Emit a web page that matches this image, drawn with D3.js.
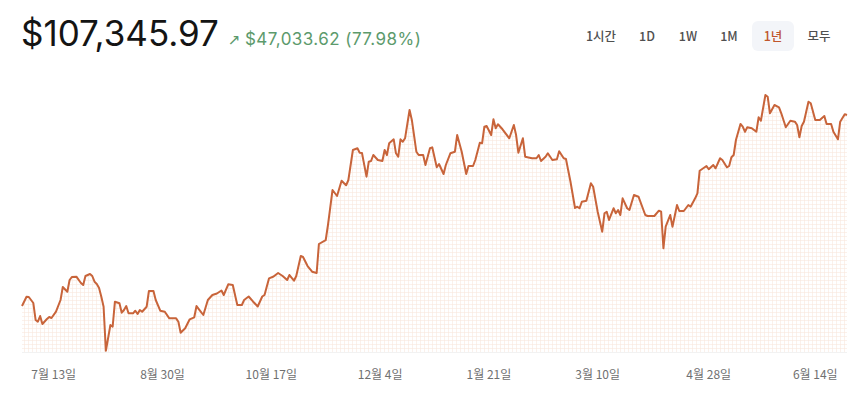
<!DOCTYPE html>
<html>
<head>
<meta charset="utf-8">
<script src="https://d3js.org/d3.v7.min.js"></script>
<style>
    body { margin: 0; background: #fff; }
    svg { display: block; }
    .tick-label { font-family: 'Noto Sans CJK KR', 'Noto Sans', sans-serif; font-size: 12px; fill: #707070; }
    .btn { font-family: 'Noto Sans CJK KR', 'Inter', sans-serif; font-size: 12.5px; font-weight: 500; fill: #505050; }
</style>
</head>
<body>
<svg width="860" height="396"></svg>
<script>
    // day offsets from 2024-06-29 and the price
    const startDate = new Date(2024, 5, 29);
    const days = [0, 2, 3, 5, 6, 7, 8, 9, 11, 12, 13, 15, 17, 18, 20, 21, 22, 24, 26, 27, 28, 30, 31, 32, 33, 34, 35, 36, 37, 38, 39, 40, 41, 43, 44, 45, 46, 47, 49, 50, 51, 52, 53, 55, 56, 58, 59, 61, 63, 65, 68, 69, 70, 72, 74, 76, 77, 78, 80, 82, 84, 86, 88, 89, 91, 93, 95, 97, 98, 100, 102, 104, 106, 107, 109, 111, 113, 115, 117, 118, 120, 121, 123, 124, 126, 128, 130, 131, 134, 135, 137, 139, 141, 143, 144, 146, 148, 149, 150, 152, 153, 154, 155, 157, 159, 160, 161, 162, 164, 165, 166, 167, 168, 169, 171, 172, 174, 175, 177, 178, 180, 181, 183, 184, 186, 187, 189, 191, 192, 194, 196, 197, 199, 200, 202, 203, 204, 205, 207, 208, 209, 210, 212, 215, 217, 218, 219, 221, 222, 225, 227, 228, 229, 231, 232, 234, 236, 237, 239, 240, 242, 244, 245, 246, 247, 249, 251, 252, 254, 256, 257, 258, 259, 261, 262, 263, 264, 265, 267, 268, 270, 272, 275, 276, 279, 281, 282, 283, 284, 286, 287, 289, 290, 292, 294, 295, 297, 298, 299, 302, 303, 305, 306, 308, 309, 311, 312, 313, 314, 315, 317, 318, 319, 320, 322, 324, 325, 326, 328, 329, 330, 332, 334, 335, 337, 339, 341, 342, 343, 344, 345, 347, 348, 350, 352, 354, 355, 357, 358, 360, 361, 363, 364];
    const prices = [60312, 62610, 62540, 61060, 56880, 56460, 57860, 55890, 57120, 57610, 57370, 58920, 61800, 65000, 63840, 66720, 67460, 67540, 65980, 65490, 67710, 68200, 67710, 66300, 65740, 64750, 62610, 60150, 49320, 52440, 55640, 55230, 61380, 60990, 58670, 59340, 60310, 58530, 58530, 59170, 58350, 59340, 58920, 60150, 64020, 64020, 61800, 59170, 58920, 57290, 57290, 56460, 53750, 54830, 57050, 57540, 60310, 59580, 58110, 61800, 63030, 63400, 64140, 63030, 65660, 65490, 60570, 60570, 61800, 62660, 61380, 60200, 62660, 63030, 67140, 67590, 68450, 67710, 66720, 67950, 66550, 67710, 72630, 72390, 70170, 68770, 68450, 75590, 76570, 80260, 88880, 87400, 91170, 90040, 91340, 98730, 99150, 98060, 97990, 92160, 95850, 96020, 97500, 96270, 96020, 98730, 97500, 100380, 101360, 97920, 97080, 101360, 100770, 101610, 108580, 106120, 98310, 97500, 97500, 95040, 99150, 99390, 94470, 95280, 92820, 95040, 97920, 98310, 102420, 98310, 92820, 94790, 94790, 96270, 100530, 100380, 104470, 104640, 102420, 106290, 104070, 105060, 103830, 101610, 104880, 102420, 98060, 101610, 97080, 96690, 96690, 97500, 96020, 97080, 97920, 96270, 96440, 98430, 96690, 96510, 90920, 84450, 84770, 84380, 86000, 86250, 90530, 89690, 83540, 78610, 83150, 83540, 81500, 84380, 83150, 83960, 82730, 86840, 84380, 83960, 87650, 87230, 82730, 82480, 82480, 83790, 83540, 74530, 79850, 82730, 79850, 85190, 83710, 83710, 85190, 84770, 86840, 88070, 93630, 94790, 93980, 95040, 94220, 96690, 96270, 94470, 94790, 96930, 97500, 101190, 105130, 104470, 103230, 104320, 104070, 103230, 106780, 105940, 112270, 111850, 107770, 109810, 109240, 107770, 104320, 105940, 105700, 104880, 101860, 104640, 105700, 110620, 110230, 106120, 106120, 107100, 105130, 105130, 103230, 101360, 105700, 107520, 107345.97];

    const tickDates = ["2024-07-13", "2024-08-30", "2024-10-17", "2024-12-04", "2025-01-21", "2025-03-10", "2025-04-28", "2025-06-14"];
    const buttons = ["1시간", "1D", "1W", "1M", "1년", "모두"];
    const activeButton = "1년";
    const lastPrice = "$107,345.97";
    const change = "$47,033.62 (77.98%)";

    const parse = d3.timeParse("%Y-%m-%d");
    const data = days.map((d, i) => ({ date: d3.timeDay.offset(startDate, d), price: prices[i] }));

    const svg = d3.select("svg");
    const lineColor = "#c8643a";
    const green = "#5c9a6c";

    const xScale = d3.scaleTime()
        .domain([startDate, d3.timeDay.offset(startDate, 364)])
        .range([22, 847]);
    const yScale = d3.scaleLinear()
        .domain(d3.extent(prices))
        .range([350.7, 95]);
    const bottom = 352;

    // grid pattern fill under the line
    const defs = svg.append("defs");
    const pat = defs.append("pattern")
        .attr("id", "grid")
        .attr("width", 4).attr("height", 4)
        .attr("patternUnits", "userSpaceOnUse");
    pat.append("path")
        .attr("d", "M4 0 L0 0 0 4")
        .attr("fill", "none")
        .attr("stroke", "#f8e4d8")
        .attr("stroke-width", 1);

    const area = d3.area()
        .x(d => xScale(d.date))
        .y0(bottom)
        .y1(d => yScale(d.price));

    svg.append("path")
        .datum(data)
        .attr("fill", "url(#grid)")
        .attr("d", area);

    svg.append("line")
        .attr("x1", 22).attr("x2", 847)
        .attr("y1", bottom + 0.5).attr("y2", bottom + 0.5)
        .attr("stroke", "#f2f2f2");

    const line = d3.line()
        .x(d => xScale(d.date))
        .y(d => yScale(d.price));

    svg.append("path")
        .datum(data)
        .attr("fill", "none")
        .attr("stroke", lineColor)
        .attr("stroke-width", 2)
        .attr("stroke-linejoin", "round")
        .attr("d", line);

    // x axis labels
    const fmt = d => `${d.getMonth() + 1}월 ${d.getDate()}일`;
    svg.append("g")
        .selectAll("text")
        .data(tickDates.map(parse))
        .join("text")
        .attr("class", "tick-label")
        .attr("x", d => xScale(d))
        .attr("y", 379)
        .attr("text-anchor", "middle")
        .text(fmt);

    // header
    svg.append("text")
        .attr("x", 21)
        .attr("y", 46)
        .attr("font-family", "Inter, sans-serif")
        .attr("font-size", 35)
        .attr("fill", "#141414")
        .text(lastPrice);

    svg.append("text")
        .attr("x", 228)
        .attr("y", 45)
        .attr("font-family", "'DejaVu Sans', sans-serif")
        .attr("font-size", 15)
        .attr("fill", green)
        .text("↗");

    svg.append("text")
        .attr("x", 245)
        .attr("y", 45)
        .attr("font-family", "Inter, sans-serif")
        .attr("font-size", 17)
        .attr("letter-spacing", 0.45)
        .attr("fill", green)
        .text(change);

    // range buttons
    const btnX = [601, 647, 688, 729, 773, 819];
    const bg = svg.append("g");
    bg.append("rect")
        .attr("x", 752).attr("y", 21)
        .attr("width", 42).attr("height", 30)
        .attr("rx", 6)
        .attr("fill", "#f3f5f9");
    bg.selectAll("text")
        .data(buttons)
        .join("text")
        .attr("class", "btn")
        .attr("x", (d, i) => btnX[i])
        .attr("y", 41)
        .attr("text-anchor", "middle")
        .style("fill", d => d === activeButton ? "#c0562c" : null)
        .text(d => d);
</script>
</body>
</html>
